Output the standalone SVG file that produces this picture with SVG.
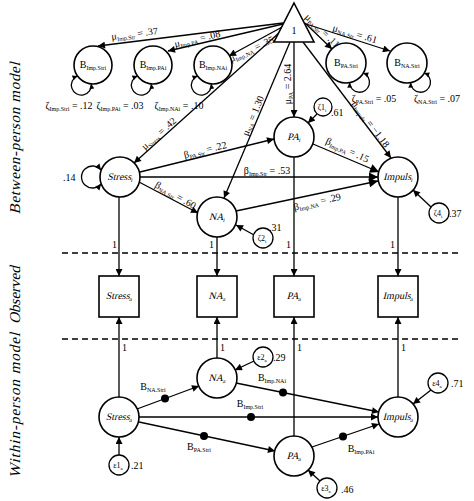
<svg xmlns="http://www.w3.org/2000/svg" width="474" height="501" viewBox="0 0 474 501" font-family="'Liberation Serif', 'Times New Roman', serif">
<defs>
<marker id="ar" viewBox="0 0 10 10" refX="10" refY="5" markerWidth="9" markerHeight="7" markerUnits="userSpaceOnUse" orient="auto-start-reverse"><path d="M0,0 L10,5 L0,10 z" fill="#000"/></marker>
<marker id="arb" viewBox="0 0 10 10" refX="10" refY="5" markerWidth="11" markerHeight="9" markerUnits="userSpaceOnUse" orient="auto-start-reverse"><path d="M0,0 L10,5 L0,10 z" fill="#000"/></marker>
<marker id="arm" viewBox="0 0 10 10" refX="10" refY="5" markerWidth="7" markerHeight="6" markerUnits="userSpaceOnUse" orient="auto-start-reverse"><path d="M0,0 L10,5 L0,10 z" fill="#000"/></marker>
<marker id="ars" viewBox="0 0 10 10" refX="10" refY="5" markerWidth="6" markerHeight="5" markerUnits="userSpaceOnUse" orient="auto-start-reverse"><path d="M0,0 L10,5 L0,10 z" fill="#000"/></marker>
</defs>
<style>
.ln{stroke:#000;stroke-width:1.3;fill:none}
.nd{fill:#fff;stroke:#000;stroke-width:1.6}
.sm{fill:#fff;stroke:#000;stroke-width:1.3}
.ds{stroke:#000;stroke-width:1.6;stroke-dasharray:6,4;fill:none}
text{font-family:'Liberation Serif','Times New Roman',serif;font-size:10px;fill:#000}
.s{font-size:6px}
.sx{font-size:5px}
.ax{font-size:15px}
.c{text-anchor:middle}
.g8{font-size:8px}
</style>
<rect width="474" height="501" fill="#fff"/>

<g id="section-labels">
<text class="ax c" transform="translate(20,138) rotate(-90) skewX(-14)" style="letter-spacing:0.7px">Between-person model</text>
<text class="ax c" transform="translate(20,295) rotate(-90) skewX(-14)">Observed</text>
<text class="ax c" transform="translate(20,405) rotate(-90) skewX(-14)" style="letter-spacing:1px">Within-person model</text>
<line class="ds" x1="62" y1="253" x2="462" y2="253"/>
<line class="ds" x1="62" y1="339" x2="462" y2="339"/>
</g>

<g id="connectors">
<line class="ln" x1="283" y1="23" x2="98" y2="46" marker-end="url(#ar)"/>
<line class="ln" x1="283" y1="24" x2="168" y2="51" marker-end="url(#ar)"/>
<line class="ln" x1="284" y1="26" x2="229" y2="56" marker-end="url(#ar)"/>
<line class="ln" x1="305" y1="23" x2="332" y2="49" marker-end="url(#ar)"/>
<line class="ln" x1="306" y1="24" x2="390" y2="51" marker-end="url(#ar)"/>
<line class="ln" x1="280" y1="32" x2="134" y2="163" marker-end="url(#ar)"/>
<line class="ln" x1="290" y1="42" x2="224" y2="198" marker-end="url(#ar)"/>
<line class="ln" x1="294" y1="42" x2="294" y2="117" marker-end="url(#ar)"/>
<line class="ln" x1="303" y1="42" x2="391" y2="158" marker-end="url(#ar)"/>
<line class="ln" x1="140" y1="172" x2="274" y2="139" marker-end="url(#ar)"/>
<line class="ln" x1="140" y1="177" x2="378" y2="177" marker-end="url(#arb)"/>
<line class="ln" x1="139" y1="182" x2="198" y2="213" marker-end="url(#ar)"/>
<line class="ln" x1="313" y1="144" x2="379" y2="172" marker-end="url(#arb)"/>
<line class="ln" x1="236" y1="211" x2="378" y2="181" marker-end="url(#arb)"/>
<line class="ln" x1="317" y1="114" x2="308" y2="123" marker-end="url(#ar)"/>
<line class="ln" x1="254" y1="235" x2="236" y2="225" marker-end="url(#ar)"/>
<line class="ln" x1="431" y1="207" x2="413" y2="190" marker-end="url(#ar)"/>
<path class="ln" d="M101,170 A11,11 0 1,0 101,184" marker-start="url(#arm)" marker-end="url(#arm)"/>
<path class="ln" d="M77.4,75.9 A10,10 0 1,0 91.3,83.9" marker-start="url(#ars)" marker-end="url(#ars)"/>
<path class="ln" d="M137.4,75.9 A10,10 0 1,0 151.3,83.9" marker-start="url(#ars)" marker-end="url(#ars)"/>
<path class="ln" d="M197.4,75.9 A10,10 0 1,0 211.3,83.9" marker-start="url(#ars)" marker-end="url(#ars)"/>
<path class="ln" d="M363.3,73 A10,10 0 1,1 349.5,82.7" marker-start="url(#ars)" marker-end="url(#ars)"/>
<path class="ln" d="M424.3,73 A10,10 0 1,1 410.5,82.7" marker-start="url(#ars)" marker-end="url(#ars)"/>
<line class="ln" x1="119" y1="197" x2="119" y2="276" marker-end="url(#ar)"/>
<line class="ln" x1="217" y1="237" x2="217" y2="276" marker-end="url(#ar)"/>
<line class="ln" x1="294" y1="157" x2="294" y2="276" marker-end="url(#ar)"/>
<line class="ln" x1="398" y1="197" x2="398" y2="276" marker-end="url(#ar)"/>
<line class="ln" x1="119" y1="397" x2="119" y2="317" marker-end="url(#ar)"/>
<line class="ln" x1="217" y1="358" x2="217" y2="317" marker-end="url(#ar)"/>
<line class="ln" x1="294" y1="436" x2="294" y2="317" marker-end="url(#ar)"/>
<line class="ln" x1="398" y1="397" x2="398" y2="317" marker-end="url(#ar)"/>
<line class="ln" x1="137" y1="409" x2="199" y2="386" marker-end="url(#ar)"/>
<line class="ln" x1="139" y1="417" x2="378" y2="417" marker-end="url(#ar)"/>
<line class="ln" x1="139" y1="422" x2="275" y2="451" marker-end="url(#ar)"/>
<line class="ln" x1="236" y1="383" x2="379" y2="412" marker-end="url(#ar)"/>
<line class="ln" x1="312" y1="447" x2="379" y2="424" marker-end="url(#ar)"/>
<circle cx="165" cy="398.5" r="4"/>
<circle cx="251" cy="417" r="4"/>
<circle cx="204" cy="436" r="4"/>
<circle cx="283" cy="392.5" r="4"/>
<circle cx="343" cy="436.5" r="4"/>
<line class="ln" x1="119" y1="455" x2="119" y2="437" marker-end="url(#ar)"/>
<line class="ln" x1="254" y1="361" x2="235" y2="370" marker-end="url(#ar)"/>
<line class="ln" x1="320" y1="481" x2="308" y2="470" marker-end="url(#ar)"/>
<line class="ln" x1="431" y1="390" x2="413" y2="404" marker-end="url(#ar)"/>
</g>

<g id="labels">
<text class="c" transform="translate(135,37) rotate(-7)">μ<tspan class="s" dy="2">Imp.Str</tspan><tspan dy="-2"> = .37</tspan></text>
<text class="c" transform="translate(198,42) rotate(-13)">μ<tspan class="s" dy="2">Imp.PA</tspan><tspan dy="-2"> = .08</tspan></text>
<text class="c" transform="translate(253,52) rotate(-25)">μ<tspan class="s" dy="2">Imp.NA</tspan><tspan dy="-2"> = .35</tspan></text>
<text class="c" transform="translate(320,33) rotate(44)">μ<tspan class="s" dy="2">PA.Str</tspan><tspan dy="-2"> = .11</tspan></text>
<text class="c" transform="translate(354,37) rotate(16)">μ<tspan class="s" dy="2">NA.Str</tspan><tspan dy="-2"> = .61</tspan></text>
<text class="c" transform="translate(161,136) rotate(-42)">μ<tspan class="s" dy="2">Stress</tspan><tspan dy="-2"> = .42</tspan></text>
<text class="c" transform="translate(256,117) rotate(-67)">μ<tspan class="s" dy="2">NA</tspan><tspan dy="-2"> = 1.30</tspan></text>
<text class="c" transform="translate(291,84) rotate(-90)">μ<tspan class="s" dy="2">PA</tspan><tspan dy="-2"> = 2.64</tspan></text>
<text class="c" transform="translate(368,126) rotate(53)">μ<tspan class="s" dy="2">Impuls</tspan><tspan dy="-2"> = −1.18</tspan></text>
<text class="c" transform="translate(206,153) rotate(-14)">β<tspan class="s" dy="2">PA.Str</tspan><tspan dy="-2"> = .22</tspan></text>
<text class="c" transform="translate(267,174)">β<tspan class="s" dy="2">Imp.Str</tspan><tspan dy="-2"> = .53</tspan></text>
<text class="c" transform="translate(174,198) rotate(30)">β<tspan class="s" dy="2">NA.Str</tspan><tspan dy="-2"> = .60</tspan></text>
<text class="c" transform="translate(346,153) rotate(25)">β<tspan class="s" dy="2">Imp.PA</tspan><tspan dy="-2"> = .15</tspan></text>
<text class="c" transform="translate(318,205) rotate(-13)">β<tspan class="s" dy="2">Imp.NA</tspan><tspan dy="-2"> = .29</tspan></text>
<text class="c" x="69" y="109">ζ<tspan class="s" dy="2">Imp.Stri</tspan><tspan dy="-2"> = .12</tspan></text>
<text class="c" x="120" y="109">ζ<tspan class="s" dy="2">Imp.PAi</tspan><tspan dy="-2"> = .03</tspan></text>
<text class="c" x="179" y="109">ζ<tspan class="s" dy="2">Imp.NAi</tspan><tspan dy="-2"> = .10</tspan></text>
<text class="c" x="374" y="102">ζ<tspan class="s" dy="2">PA.Stri</tspan><tspan dy="-2"> = .05</tspan></text>
<text class="c" x="437" y="102">ζ<tspan class="s" dy="2">NA.Stri</tspan><tspan dy="-2"> = .07</tspan></text>
<text x="63" y="181">.14</text>
<text x="331" y="116">.61</text>
<text x="269" y="231">.31</text>
<text x="449" y="217">.37</text>
<text x="131" y="469">.21</text>
<text x="273" y="361">.29</text>
<text x="341" y="493">.46</text>
<text x="451" y="387">.71</text>
<text x="112" y="248">1</text>
<text x="209" y="248">1</text>
<text x="286" y="248">1</text>
<text x="390" y="248">1</text>
<text x="122" y="351">1</text>
<text x="220" y="351">1</text>
<text x="297" y="351">1</text>
<text x="401" y="351">1</text>
<text class="c" x="153" y="390">B<tspan class="s" dy="2">NA.Stri</tspan></text>
<text class="c" x="250" y="407">B<tspan class="s" dy="2">Imp.Stri</tspan></text>
<text class="c" x="199" y="450">B<tspan class="s" dy="2">PA.Stri</tspan></text>
<text class="c" x="272" y="381">B<tspan class="s" dy="2">Imp.NAi</tspan></text>
<text class="c" x="361" y="452">B<tspan class="s" dy="2">Imp.PAi</tspan></text>
</g>

<g id="one"><path class="nd" d="M294,3 L314,42 L274,42 Z"/><text class="c" x="294" y="34">1</text></g>

<g id="B_Imp_Stri"><circle class="nd" cx="93" cy="65" r="19"/><text class="c" x="93" y="68">B<tspan class="s" dy="2">Imp.Stri</tspan></text></g>
<g id="B_Imp_PAi"><circle class="nd" cx="153" cy="65" r="19"/><text class="c" x="153" y="68">B<tspan class="s" dy="2">Imp.PAi</tspan></text></g>
<g id="B_Imp_NAi"><circle class="nd" cx="213" cy="65" r="19"/><text class="c" x="213" y="68">B<tspan class="s" dy="2">Imp.NAi</tspan></text></g>
<g id="B_PA_Stri"><circle class="nd" cx="346" cy="63" r="20"/><text class="c" x="346" y="66">B<tspan class="s" dy="2">PA.Stri</tspan></text></g>
<g id="B_NA_Stri"><circle class="nd" cx="407" cy="63" r="20"/><text class="c" x="407" y="66">B<tspan class="s" dy="2">NA.Stri</tspan></text></g>

<g id="Stress_i"><circle class="nd" cx="120" cy="177" r="20"/><text class="c" transform="translate(120,180) skewX(-14)">Stress<tspan class="s" dy="2">i</tspan></text></g>
<g id="NA_i"><circle class="nd" cx="217" cy="217" r="20"/><text class="c" transform="translate(217,220) skewX(-14)">NA<tspan class="s" dy="2">i</tspan></text></g>
<g id="PA_i"><circle class="nd" cx="294" cy="137" r="20"/><text class="c" transform="translate(294,140) skewX(-14)">PA<tspan class="s" dy="2">i</tspan></text></g>
<g id="Impuls_i"><circle class="nd" cx="398" cy="177" r="20"/><text class="c" transform="translate(398,180) skewX(-14)">Impuls<tspan class="s" dy="2">i</tspan></text></g>
<g id="zeta1"><circle class="sm" cx="323" cy="107" r="9"/><text class="c g8" x="322" y="110">ζ1<tspan class="sx" dy="2">i</tspan></text></g>
<g id="zeta2"><circle class="sm" cx="263" cy="238" r="10"/><text class="c g8" x="262" y="241">ζ2<tspan class="sx" dy="2">i</tspan></text></g>
<g id="zeta4"><circle class="sm" cx="439" cy="213" r="10"/><text class="c g8" x="438" y="216">ζ4<tspan class="sx" dy="2">i</tspan></text></g>

<g id="obs_Stress"><rect class="nd" x="99" y="276" width="40" height="41"/><text class="c" transform="translate(119,299) skewX(-14)">Stress<tspan class="s" dy="2">a</tspan></text></g>
<g id="obs_NA"><rect class="nd" x="197" y="276" width="40" height="41"/><text class="c" transform="translate(217,299) skewX(-14)">NA<tspan class="s" dy="2">a</tspan></text></g>
<g id="obs_PA"><rect class="nd" x="274" y="276" width="40" height="41"/><text class="c" transform="translate(294,299) skewX(-14)">PA<tspan class="s" dy="2">a</tspan></text></g>
<g id="obs_Impuls"><rect class="nd" x="378" y="276" width="40" height="41"/><text class="c" transform="translate(398,299) skewX(-14)">Impuls<tspan class="s" dy="2">a</tspan></text></g>

<g id="Stress_a"><circle class="nd" cx="119" cy="417" r="20"/><text class="c" transform="translate(119,420) skewX(-14)">Stress<tspan class="s" dy="2">a</tspan></text></g>
<g id="NA_a"><circle class="nd" cx="217" cy="378" r="20"/><text class="c" transform="translate(217,381) skewX(-14)">NA<tspan class="s" dy="2">a</tspan></text></g>
<g id="PA_a"><circle class="nd" cx="294" cy="456" r="20"/><text class="c" transform="translate(294,459) skewX(-14)">PA<tspan class="s" dy="2">a</tspan></text></g>
<g id="Impuls_a"><circle class="nd" cx="398" cy="417" r="20"/><text class="c" transform="translate(398,420) skewX(-14)">Impuls<tspan class="s" dy="2">a</tspan></text></g>
<g id="eps1"><circle class="sm" cx="119" cy="465" r="10"/><text class="c g8" x="118" y="468">ε1<tspan class="sx" dy="2">a</tspan></text></g>
<g id="eps2"><circle class="sm" cx="263" cy="357" r="10"/><text class="c g8" x="262" y="360">ε2<tspan class="sx" dy="2">a</tspan></text></g>
<g id="eps3"><circle class="sm" cx="327" cy="488" r="10"/><text class="c g8" x="326" y="491">ε3<tspan class="sx" dy="2">a</tspan></text></g>
<g id="eps4"><circle class="sm" cx="438" cy="383" r="10"/><text class="c g8" x="437" y="386">ε4<tspan class="sx" dy="2">a</tspan></text></g>
</svg>
